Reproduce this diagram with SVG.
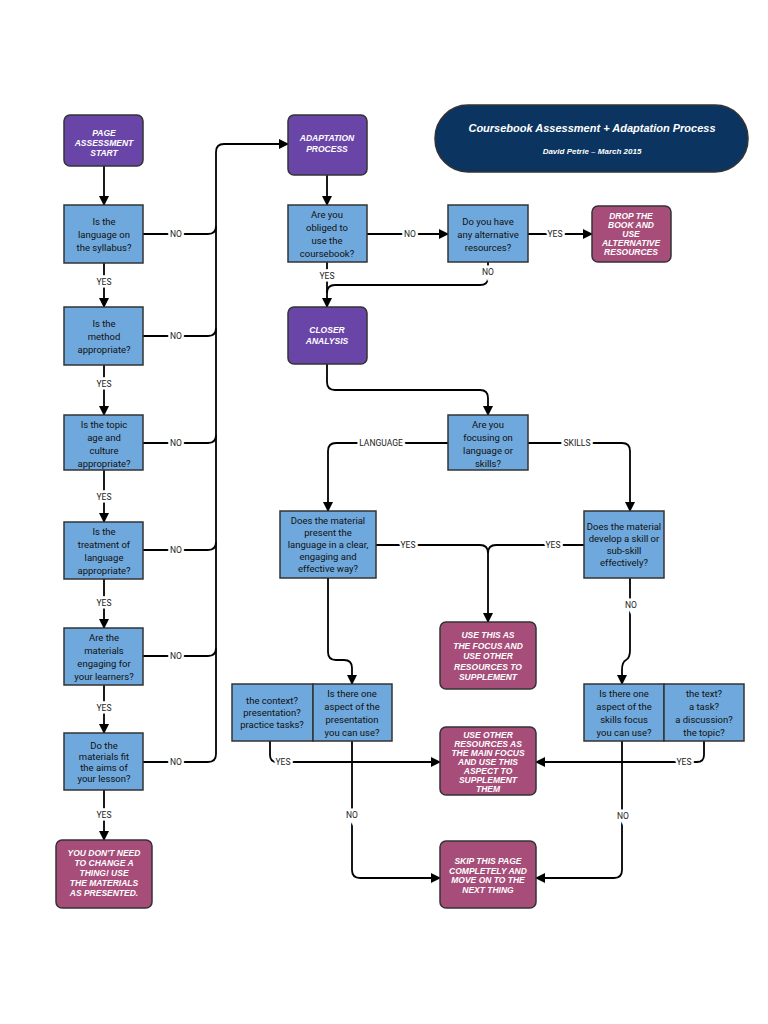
<svg xmlns="http://www.w3.org/2000/svg" width="768" height="1024" viewBox="0 0 768 1024">
<style>
.q{fill:#6fa8dc;stroke:#333;stroke-width:1.5}
.p{fill:#6a45a8;stroke:#333;stroke-width:1.5}
.m{fill:#a64d79;stroke:#333;stroke-width:1.5}
.qt{font-family:Roboto,"Liberation Sans",sans-serif;font-size:9.5px;fill:#111;text-anchor:middle}
.ht{font-family:"Liberation Sans",sans-serif;font-size:8.5px;font-weight:bold;font-style:italic;fill:#fff;text-anchor:middle}
.c{fill:none;stroke:#000;stroke-width:1.8}
.a{marker-end:url(#ar)}
.l{font-family:Roboto,"Liberation Sans",sans-serif;font-size:8.5px;fill:#222;text-anchor:middle;paint-order:stroke;stroke:#fff;stroke-width:5}
</style>
<defs><marker id="ar" markerWidth="10" markerHeight="10" refX="9" refY="5" orient="auto" markerUnits="userSpaceOnUse"><path d="M0,0 L10,5 L0,10 Z" fill="#000"/></marker></defs>
<rect width="768" height="1024" fill="#fff"/>
<g id="connectors">
<path class="c a" d="M104,166V205"/>
<path class="c a" d="M104,263V307"/>
<path class="c a" d="M104,365V415"/>
<path class="c a" d="M104,470V522"/>
<path class="c a" d="M104,579V628"/>
<path class="c a" d="M104,685V733"/>
<path class="c a" d="M104,790V840"/>
<path class="c a" d="M143,762H208Q216,762 216,754V152Q216,144 224,144H288"/>
<path class="c" d="M143,234H208Q216,234 216,226"/>
<path class="c" d="M143,336H208Q216,336 216,328"/>
<path class="c" d="M143,443H208Q216,443 216,435"/>
<path class="c" d="M143,550H208Q216,550 216,542"/>
<path class="c" d="M143,656H208Q216,656 216,648"/>
<path class="c a" d="M327,175V205"/>
<path class="c a" d="M367,234H448"/>
<path class="c a" d="M528,234H592"/>
<path class="c a" d="M327,262V307"/>
<path class="c" d="M488,262V278Q488,285 480,285H335Q327,285 327,293"/>
<path class="c a" d="M327,364V382Q327,390 335,390H480Q488,390 488,398V415"/>
<path class="c a" d="M448,443H336Q328,443 328,451V511"/>
<path class="c a" d="M528,443H622Q630,443 630,451V511"/>
<path class="c a" d="M376,545H480Q488,545 488,553V622"/>
<path class="c" d="M584,545H496Q488,545 488,553"/>
<path class="c a" d="M328,578V652Q328,660 336,660H344Q352,660 352,668V684"/>
<path class="c a" d="M630,578V650Q630,658 626,660Q622,662 622,670V684"/>
<path class="c a" d="M270,741V755Q270,762 277,762H440"/>
<path class="c a" d="M704,741V755Q704,762 697,762H536"/>
<path class="c a" d="M352,741V870Q352,878 360,878H440"/>
<path class="c a" d="M622,741V870Q622,878 614,878H536"/>
<text class="l" x="104" y="285">YES</text>
<text class="l" x="104" y="387">YES</text>
<text class="l" x="104" y="500">YES</text>
<text class="l" x="104" y="606">YES</text>
<text class="l" x="104" y="711">YES</text>
<text class="l" x="104" y="818">YES</text>
<text class="l" x="176" y="237">NO</text>
<text class="l" x="176" y="339">NO</text>
<text class="l" x="176" y="446">NO</text>
<text class="l" x="176" y="553">NO</text>
<text class="l" x="176" y="659">NO</text>
<text class="l" x="176" y="765">NO</text>
<text class="l" x="410" y="237">NO</text>
<text class="l" x="555" y="237">YES</text>
<text class="l" x="327" y="279">YES</text>
<text class="l" x="488" y="275">NO</text>
<text class="l" x="381" y="446">LANGUAGE</text>
<text class="l" x="577" y="446">SKILLS</text>
<text class="l" x="408" y="548">YES</text>
<text class="l" x="553" y="548">YES</text>
<text class="l" x="631" y="608">NO</text>
<text class="l" x="283" y="765">YES</text>
<text class="l" x="684" y="765">YES</text>
<text class="l" x="352" y="818">NO</text>
<text class="l" x="623" y="819">NO</text>
</g>
<g id="title">
<rect x="435" y="105" width="313" height="67" rx="33" fill="#0b3560" stroke="#333" stroke-width="1.5"/>
<text x="592" y="132" text-anchor="middle" font-family="'Liberation Sans',sans-serif" font-size="11" font-weight="bold" font-style="italic" fill="#fff">Coursebook Assessment + Adaptation Process</text>
<text x="592" y="154" text-anchor="middle" font-family="'Liberation Sans',sans-serif" font-size="8" font-weight="bold" font-style="italic" fill="#fff">David Petrie – March 2015</text>
</g>
<g id="start"><rect class="p" x="64" y="115" width="79" height="51" rx="6"/><text class="ht" x="104" y="136">PAGE<tspan x="104" dy="10">ASSESSMENT</tspan><tspan x="104" dy="10">START</tspan></text></g>
<g id="q1"><rect class="q" x="64" y="205" width="79" height="58"/><text class="qt" x="104" y="225">Is the<tspan x="104" dy="13">language on</tspan><tspan x="104" dy="13">the syllabus?</tspan></text></g>
<g id="q2"><rect class="q" x="64" y="307" width="79" height="58"/><text class="qt" x="104" y="327">Is the<tspan x="104" dy="13">method</tspan><tspan x="104" dy="13">appropriate?</tspan></text></g>
<g id="q3"><rect class="q" x="64" y="415" width="79" height="55"/><text class="qt" x="104" y="428">Is the topic<tspan x="104" dy="13">age and</tspan><tspan x="104" dy="13">culture</tspan><tspan x="104" dy="13">appropriate?</tspan></text></g>
<g id="q4"><rect class="q" x="64" y="522" width="79" height="57"/><text class="qt" x="104" y="535">Is the<tspan x="104" dy="13">treatment of</tspan><tspan x="104" dy="13">language</tspan><tspan x="104" dy="13">appropriate?</tspan></text></g>
<g id="q5"><rect class="q" x="64" y="628" width="79" height="57"/><text class="qt" x="104" y="641">Are the<tspan x="104" dy="13">materials</tspan><tspan x="104" dy="13">engaging for</tspan><tspan x="104" dy="13">your learners?</tspan></text></g>
<g id="q6"><rect class="q" x="64" y="733" width="79" height="57"/><text class="qt" x="104" y="749">Do the<tspan x="104" dy="11">materials fit</tspan><tspan x="104" dy="11">the aims of</tspan><tspan x="104" dy="11">your lesson?</tspan></text></g>
<g id="end"><rect class="m" x="56" y="840" width="96" height="68" rx="6"/><text class="ht" x="104" y="856">YOU DON'T NEED<tspan x="104" dy="10">TO CHANGE A</tspan><tspan x="104" dy="10">THING!  USE</tspan><tspan x="104" dy="10">THE MATERIALS</tspan><tspan x="104" dy="10">AS PRESENTED.</tspan></text></g>
<g id="adapt"><rect class="p" x="288" y="115" width="79" height="60" rx="6"/><text class="ht" x="327" y="141">ADAPTATION<tspan x="327" dy="11">PROCESS</tspan></text></g>
<g id="obliged"><rect class="q" x="288" y="205" width="79" height="57"/><text class="qt" x="327" y="218">Are you<tspan x="327" dy="13">obliged to</tspan><tspan x="327" dy="13">use the</tspan><tspan x="327" dy="13">coursebook?</tspan></text></g>
<g id="alt"><rect class="q" x="448" y="205" width="80" height="57"/><text class="qt" x="488" y="225">Do you have<tspan x="488" dy="13">any alternative</tspan><tspan x="488" dy="13">resources?</tspan></text></g>
<g id="drop"><rect class="m" x="592" y="206" width="79" height="56" rx="6"/><text class="ht" x="631" y="219">DROP THE<tspan x="631" dy="9">BOOK AND</tspan><tspan x="631" dy="9">USE</tspan><tspan x="631" dy="9">ALTERNATIVE</tspan><tspan x="631" dy="9">RESOURCES</tspan></text></g>
<g id="closer"><rect class="p" x="288" y="307" width="79" height="57" rx="6"/><text class="ht" x="327" y="333">CLOSER<tspan x="327" dy="11">ANALYSIS</tspan></text></g>
<g id="focus"><rect class="q" x="448" y="415" width="80" height="55"/><text class="qt" x="488" y="428">Are you<tspan x="488" dy="13">focusing on</tspan><tspan x="488" dy="13">language or</tspan><tspan x="488" dy="13">skills?</tspan></text></g>
<g id="langq"><rect class="q" x="280" y="511" width="96" height="67"/><text class="qt" x="328" y="524" font-size="9">Does the material<tspan x="328" dy="12">present the</tspan><tspan x="328" dy="12">language in a clear,</tspan><tspan x="328" dy="12">engaging and</tspan><tspan x="328" dy="12">effective way?</tspan></text></g>
<g id="skillq"><rect class="q" x="584" y="511" width="80" height="67"/><text class="qt" x="624" y="530" font-size="9">Does the material<tspan x="624" dy="12">develop a skill or</tspan><tspan x="624" dy="12">sub-skill</tspan><tspan x="624" dy="12">effectively?</tspan></text></g>
<g id="usethis"><rect class="m" x="440" y="622" width="96" height="67" rx="6"/><text class="ht" x="488" y="638">USE THIS AS<tspan x="488" dy="10.5">THE FOCUS AND</tspan><tspan x="488" dy="10.5">USE OTHER</tspan><tspan x="488" dy="10.5">RESOURCES TO</tspan><tspan x="488" dy="10.5">SUPPLEMENT</tspan></text></g>
<g id="langcombo"><rect class="q" x="232" y="684" width="81" height="57"/><rect class="q" x="313" y="684" width="79" height="57"/><text class="qt" x="272" y="704" font-size="8.5">the context?<tspan x="272" dy="12">presentation?</tspan><tspan x="272" dy="12">practice tasks?</tspan></text><text class="qt" x="352" y="697">Is there one<tspan x="352" dy="13">aspect of the</tspan><tspan x="352" dy="13">presentation</tspan><tspan x="352" dy="13">you can use?</tspan></text></g>
<g id="skillcombo"><rect class="q" x="584" y="684" width="80" height="57"/><rect class="q" x="664" y="684" width="80" height="57"/><text class="qt" x="624" y="697">Is there one<tspan x="624" dy="13">aspect of the</tspan><tspan x="624" dy="13">skills focus</tspan><tspan x="624" dy="13">you can use?</tspan></text><text class="qt" x="704" y="697">the text?<tspan x="704" dy="13">a task?</tspan><tspan x="704" dy="13">a discussion?</tspan><tspan x="704" dy="13">the topic?</tspan></text></g>
<g id="useother"><rect class="m" x="440" y="727" width="96" height="68" rx="6"/><text class="ht" x="488" y="738" font-size="8">USE OTHER<tspan x="488" dy="9">RESOURCES AS</tspan><tspan x="488" dy="9">THE MAIN FOCUS</tspan><tspan x="488" dy="9">AND USE THIS</tspan><tspan x="488" dy="9">ASPECT TO</tspan><tspan x="488" dy="9">SUPPLEMENT</tspan><tspan x="488" dy="9">THEM</tspan></text></g>
<g id="skip"><rect class="m" x="440" y="841" width="96" height="67" rx="6"/><text class="ht" x="488" y="864">SKIP THIS PAGE<tspan x="488" dy="9.5">COMPLETELY AND</tspan><tspan x="488" dy="9.5">MOVE ON TO THE</tspan><tspan x="488" dy="9.5">NEXT THING</tspan></text></g>
</svg>
